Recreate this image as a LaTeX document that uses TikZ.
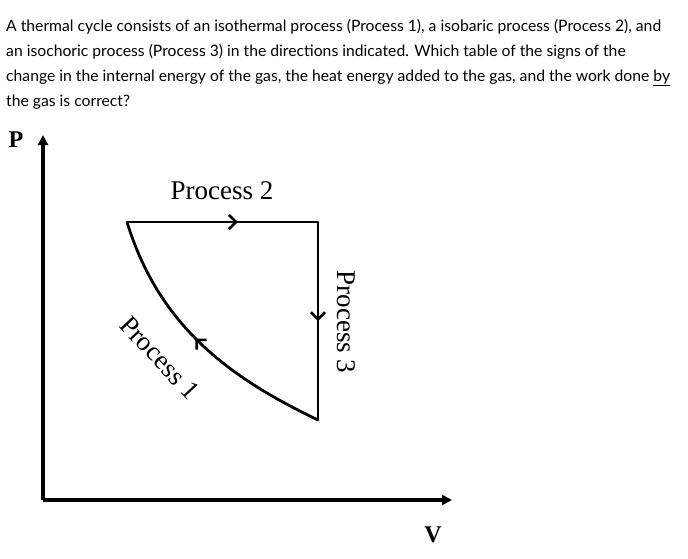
\documentclass[tikz,border=0pt]{standalone}
\usepackage{fontspec}
\setmainfont{Lato}
\newfontfamily\serif{Liberation Serif}
\usetikzlibrary{arrows.meta,decorations.markings}
\begin{document}
\begin{tikzpicture}[x=1pt,y=-1pt,
  txt/.style={anchor=base west,inner sep=0pt,font=\fontsize{15.7}{18}\selectfont},
  lbl/.style={inner sep=0pt,font=\serif\fontsize{27}{29}\selectfont},
  ax/.style={line width=3.2pt,-{Triangle[length=10pt,width=10pt]}},
  cyc/.style={line width=2.8pt},
  midarr/.style={postaction={decorate},decoration={markings,mark=at position #1 with {\arrow{Straight Barb[length=7pt,width=14pt,line width=2.6pt]}}}}]
\useasboundingbox (0,0) rectangle (688,558);
\node[txt] (l1) at (6,31) {A thermal cycle consists of an isothermal process (Process 1), a isobaric process (Process 2), and};
\node[txt] (l2) at (6,56) {an isochoric process (Process 3) in the directions indicated. Which table of the signs of the};
\node[txt] (l3) at (6,81) {change in the internal energy of the gas, the heat energy added to the gas, and the work done \underline{by}};
\node[txt] (l4) at (6,106) {the gas is correct?};
\coordinate (O) at (43,500);
\coordinate (Ptop) at (43,135);
\coordinate (Vend) at (452,500);
\draw[ax] (O) -- (Ptop);
\draw[ax] (O) -- (Vend);
\node[lbl,font=\serif\bfseries\fontsize{24}{26}\selectfont] (P) at (16,140) {P};
\node[lbl,font=\serif\bfseries\fontsize{24}{26}\selectfont] (V) at (433,535) {V};
\coordinate (A) at (127,222);
\coordinate (B) at (318,222);
\coordinate (C) at (318,420);
\draw[cyc,midarr=0.58] (A) -- (B);
\draw[cyc,midarr=0.5] (B) -- (C);
\draw[cyc,midarr=0.52] (C) .. controls (235,380) and (160,330) .. (A);
\draw[cyc,line cap=round,line join=round] (A) -- (B) -- (C);
\node[lbl] (p2) at (222,191) {Process 2};
\node[lbl,rotate=-90] (p3) at (346,322) {Process 3};
\node[lbl,rotate=-47] (p1) at (160,358) {Process 1};
\end{tikzpicture}
\end{document}
